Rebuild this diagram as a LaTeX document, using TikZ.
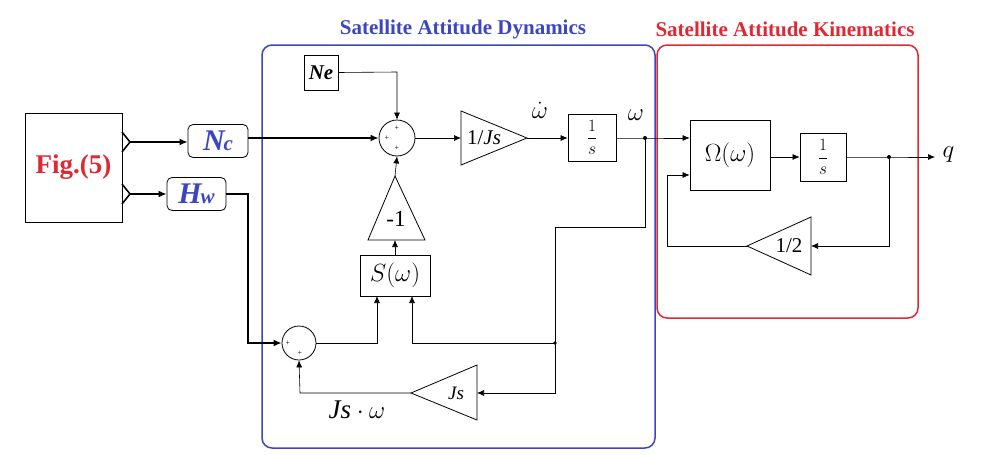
\documentclass[tikz,border=0pt]{standalone}
\usepackage{fontspec}
\setmainfont{Liberation Serif}
\usetikzlibrary{arrows.meta}
\definecolor{tblue}{RGB}{60,70,190}
\definecolor{tred}{RGB}{225,40,50}
\newcommand{\fsz}[1]{\fontsize{#1}{#1}\selectfont}
\begin{document}
\begin{tikzpicture}[x=1pt,y=-1pt,
  blk/.style={draw,fill=white,line width=0.8pt,inner sep=0pt},
  sig/.style={-{Latex[length=7pt,width=6pt]},line width=0.6pt},
  thk/.style={-{Latex[length=8pt,width=7pt]},line width=2pt},
  pl/.style={font=\fsz{8}}]
\useasboundingbox (0,0) rectangle (985,455);
% group boxes
\draw[tblue,line width=1.5pt,rounded corners=10pt] (262,45) rectangle (655,448);
\draw[tred,line width=1.5pt,rounded corners=10pt] (657,45) rectangle (918,318);
\node[tblue,font=\bfseries\fsz{21}] (t1) at (463,29) {Satellite Attitude Dynamics};
\node[tred,font=\bfseries\fsz{21}] (t2) at (785,29) {Satellite Attitude Kinematics};
% Fig box
\node[blk,minimum width=97pt,minimum height=109pt,text=tred,font=\bfseries\fsz{27}] (fig) at (73.5,167.5) {Fig.(5)};
\draw[line width=1.5pt] (122,132)--(130,142)--(122,152) (122,184)--(130,194)--(122,204);
\node[blk,rounded corners=5pt,minimum width=60pt,minimum height=33pt,text=tblue,font=\bfseries\itshape\fsz{30}] (nc) at (218,141) {N\kern-1pt\fsz{21}c};
\node[blk,rounded corners=5pt,minimum width=59pt,minimum height=33pt,text=tblue,font=\bfseries\itshape\fsz{30}] (hw) at (196.5,194) {H\kern-1pt\fsz{21}w};
\draw[thk] (130,142) -- (nc.west |- 0,142);
\draw[thk] (130,194) -- (hw.west);
% Ne
\node[blk,minimum width=34pt,minimum height=35pt,font=\bfseries\itshape\fsz{21}] (ne) at (321,72.5) {Ne};
% sum1
\node[blk,circle,minimum size=36pt] (s1) at (397,138) {};
\node[pl] at (397,128) {+}; \node[pl] at (387,138) {+}; \node[pl] at (397,148) {+};
% 1/Js
\draw[blk] (461,111)--(527,138)--(461,165)--cycle;
\coordinate (jsl) at (461,138); \coordinate (jsr) at (527,138);
\node[font=\fsz{21}] (jst) at (484,138) {1/\textit{Js}};
\node (wd) at (540,110) {\fsz{27}$\dot{\omega}$};
% int1
\node[blk,minimum width=48pt,minimum height=47pt] (i1) at (592,137.5) {\fsz{17}$\displaystyle\frac{1}{s}$};
\coordinate (j1) at (645,138);
\fill (j1) circle (2pt);
\node (w) at (636,115) {\fsz{27}$\omega$};
% Omega
\node[blk,minimum width=80pt,minimum height=70pt] (om) at (730,155) {\fsz{30}$\Omega\bigl(\omega\bigr)$};
\node[blk,minimum width=46pt,minimum height=48pt] (i2) at (823,157) {\fsz{17}$\displaystyle\frac{1}{s}$};
\coordinate (j2) at (889,157); \fill (j2) circle (2pt);
\coordinate (qe) at (935,157);
\node[anchor=west] (q) at (939,155) {\fsz{32}$q$};
% 1/2
\draw[blk] (811,217)--(747,246)--(811,275)--cycle;
\coordinate (hr) at (811,246); \coordinate (hl) at (747,246);
\node[font=\fsz{21}] (ht) at (789,246) {1/2};
% -1
\draw[blk] (368,240)--(395,176)--(425,240)--cycle;
\coordinate (mt) at (395,176); \coordinate (mb) at (395,240);
\node[font=\fsz{23}] (mtx) at (396,219) {-1};
% S(omega)
\node[blk,minimum width=70pt,minimum height=41pt] (S) at (395,275.5) {\fsz{28}$S\bigl(\omega\bigr)$};
% sum2
\node[blk,circle,minimum size=34pt] (s2) at (299,343) {};
\node[pl] at (288,343) {+}; \node[pl] at (300,353) {+};
% Js gain
\draw[blk] (477,365)--(411,393)--(477,420)--cycle;
\coordinate (gr) at (477,393); \coordinate (gl) at (411,393);
\node[font=\itshape\fsz{19}] (gt) at (456,393) {Js};
\node[font=\fsz{27}] (jw) at (357,410) {$\mathit{Js}\cdot\omega$};
\coordinate (j3) at (555,343); \fill (j3) circle (1.8pt);
% signals
\draw[thk] (nc.east |- 0,138) -- (s1.west);
\draw[thk] (hw.east) -- (248,194) -- (248,343) -- (s2.west);
\draw[sig] (ne.east) -- (397,72) -- (s1.north);
\draw[sig] (s1.east) -- (jsl);
\draw[sig] (jsr) -- (i1.west |- 0,138);
\draw[sig] (i1.east |- 0,138) -- (j1) -- (om.west |- 0,138);
\draw[sig] (om.east |- 0,157) -- (i2.west);
\draw[sig] (i2.east) -- (j2) -- (qe);
\draw[sig] (j2) -- (889,246) -- (hr);
\draw[sig] (hl) -- (667,246) -- (667,175) -- (om.west |- 0,175);
\draw[sig] (j1) -- (645,227) -- (555,227) -- (j3) -- (412,343) -- (412,296);
\draw[sig] (j3) -- (555,393) -- (gr);
\draw[sig] (gl) -- (300,393) -- (s2.south);
\draw[sig] (s2.east) -- (377,343) -- (377,296);
\draw[sig] (S.north) -- (mb);
\draw[sig] (mt) -- (s1.south);
\end{tikzpicture}
\end{document}
